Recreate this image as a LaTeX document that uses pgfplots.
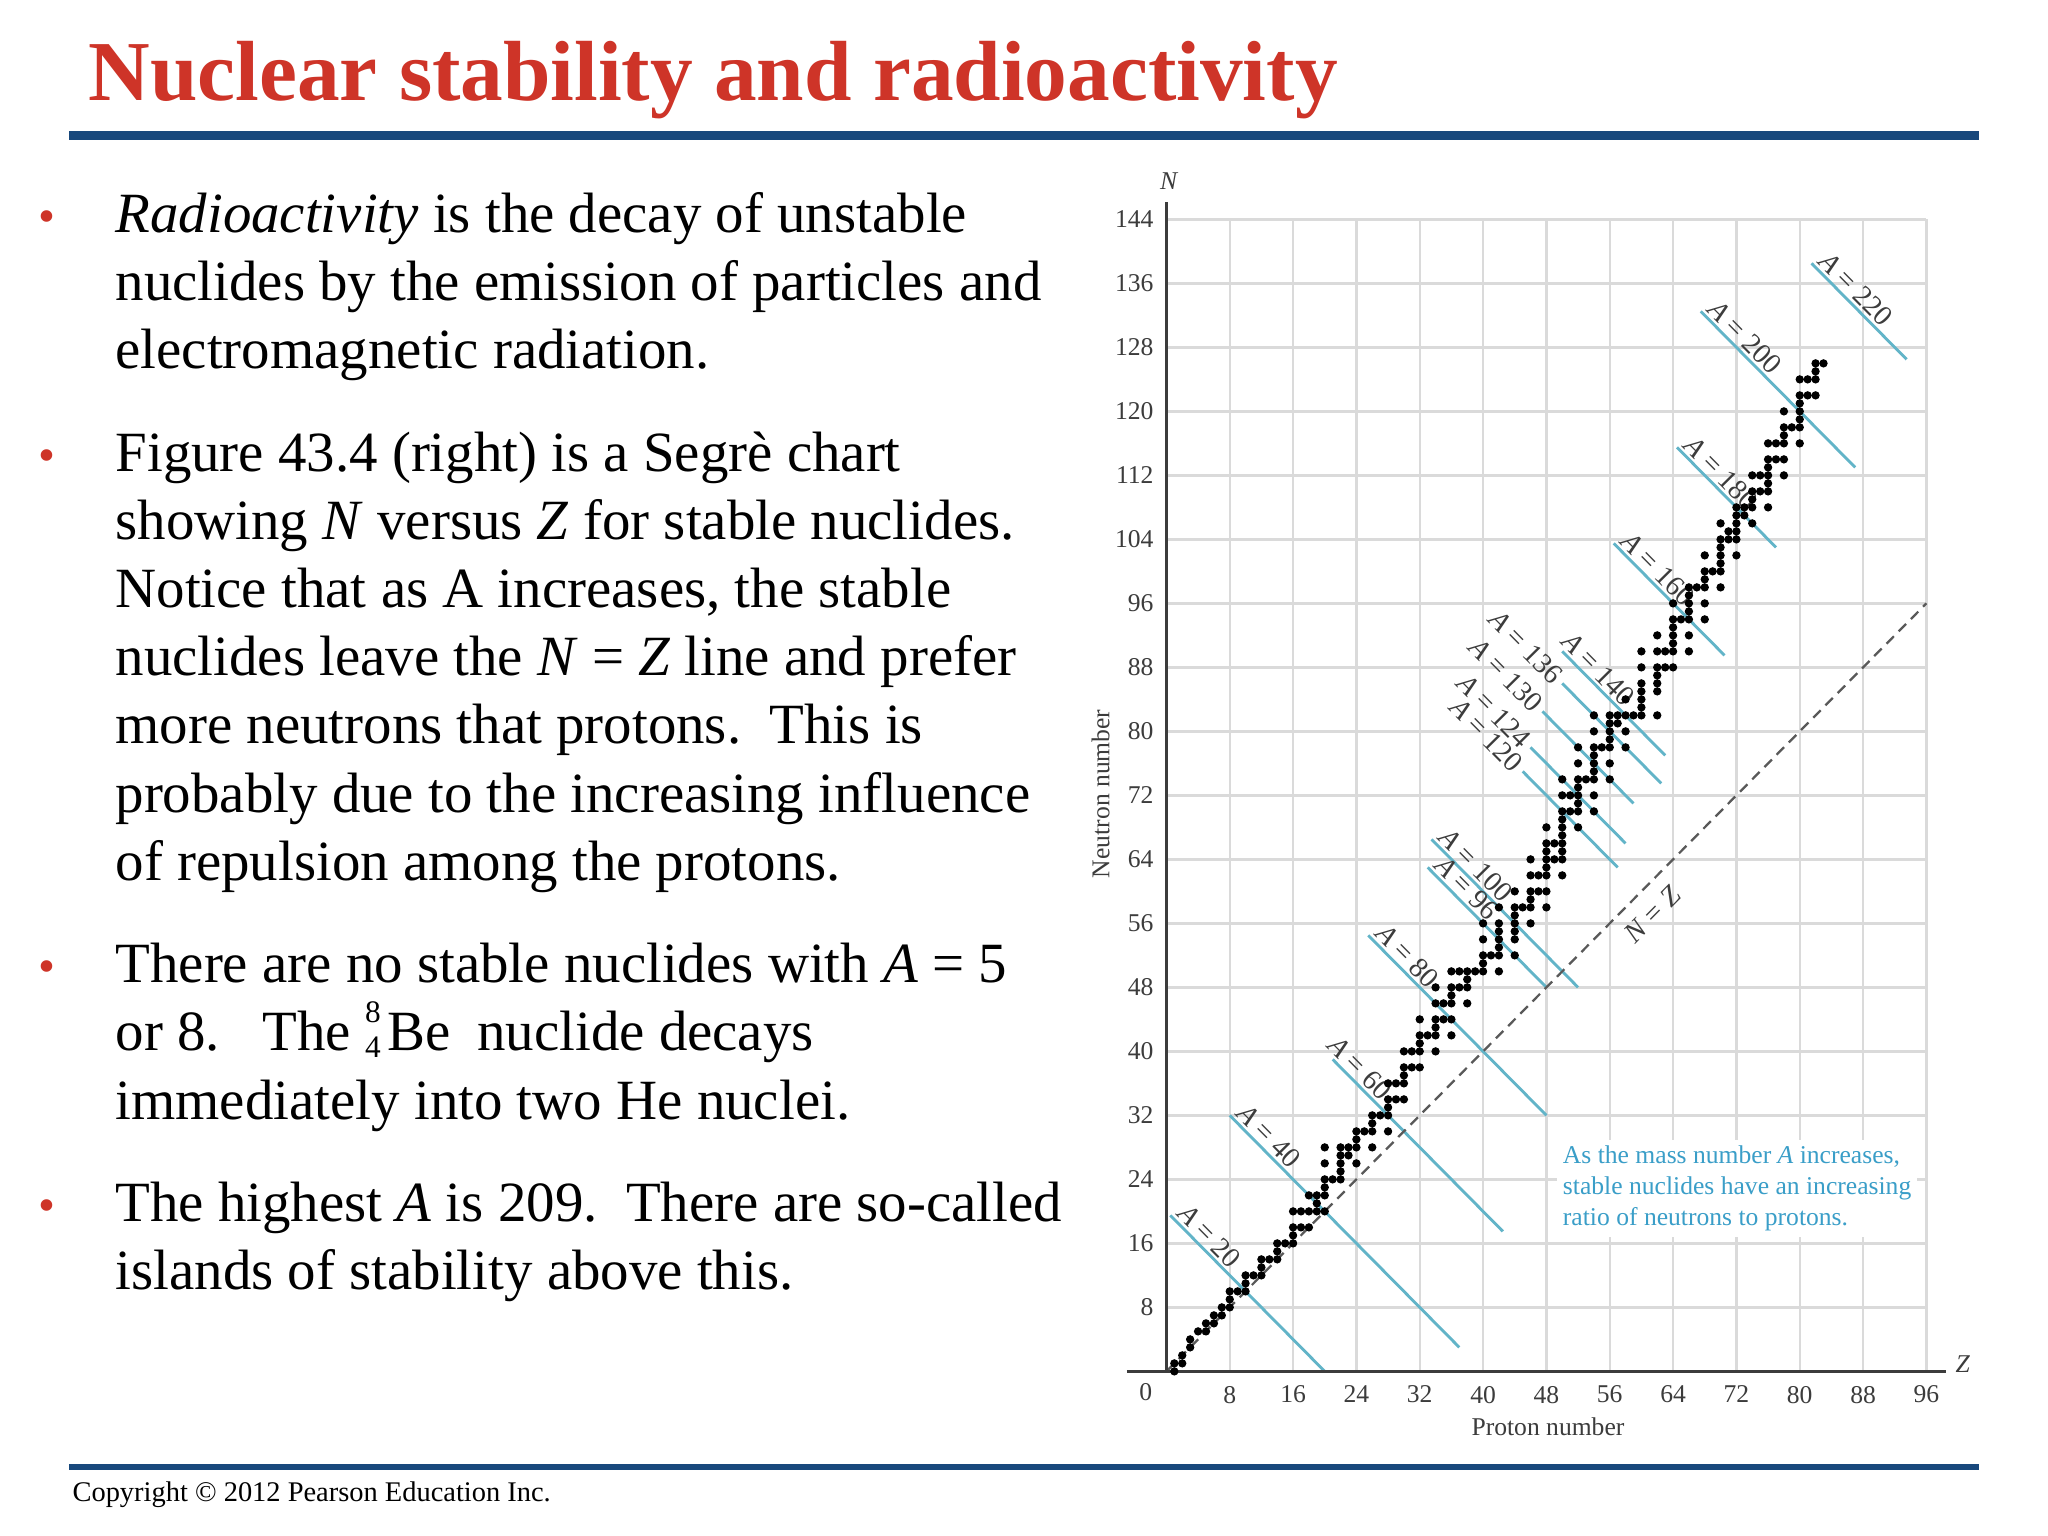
\documentclass[border=0pt]{standalone}
\usepackage{pgfplots}
\pgfplotsset{compat=1.18}
\usepackage{fontspec}
\setmainfont{Liberation Serif}
\definecolor{titlered}{RGB}{206,52,40}
\definecolor{rulblue}{RGB}{24,72,124}
\definecolor{aline}{RGB}{98,180,200}
\definecolor{notecol}{RGB}{58,158,200}
\definecolor{gridc}{RGB}{218,218,218}
\definecolor{axcol}{RGB}{60,60,60}
\definecolor{lblcol}{RGB}{60,60,60}
\newcommand{\bl}[2]{\node[anchor=base west, inner sep=0, font=\fontsize{20}{24}\selectfont] at (115,1536-#1) {#2};}
\newcommand{\bul}[1]{\node[anchor=base west, inner sep=0, text=titlered, font=\fontsize{17}{20}\selectfont] at (38,1536-#1) {\textbullet};}
\newcommand{\Be}{\makebox[0pt][l]{\raisebox{10pt}{\fontsize{11}{11}\selectfont 8}}\raisebox{-2.3pt}{\fontsize{11}{11}\selectfont 4}}
\begin{document}
\begin{tikzpicture}
\begin{scope}[x=0.3515625pt,y=0.3515625pt]
\fill[white] (0,0) rectangle (2048,1536);
% title and rules
\node[anchor=base west, inner sep=0, text=titlered, font=\fontsize{30}{36}\selectfont\bfseries] at (88,1536-101) {Nuclear stability and radioactivity};
\fill[rulblue] (69,1536-140.5) rectangle (1979,1536-131.5);
\fill[rulblue] (69,1536-1470) rectangle (1979,1536-1464);
\node[anchor=base west, inner sep=0, font=\fontsize{10}{12}\selectfont] at (72,1536-1502) {Copyright \textcopyright{} 2012 Pearson Education Inc.};
% bullets
\bul{232.5}
\bl{232.5}{\textit{Radioactivity} is the decay of unstable}
\bl{300.7}{nuclides by the emission of particles and}
\bl{368.9}{electromagnetic radiation.}
\bul{471.2}
\bl{471.2}{Figure 43.4 (right) is a Segrè chart}
\bl{539.4}{showing \textit{N} versus \textit{Z} for stable nuclides.}
\bl{607.6}{Notice that as A increases, the stable}
\bl{675.8}{nuclides leave the \textit{N} = \textit{Z} line and prefer}
\bl{744.0}{more neutrons that protons.\hspace{0.5em}This is}
\bl{812.2}{probably due to the increasing influence}
\bl{880.4}{of repulsion among the protons.}
\bul{982.7}
\bl{982.7}{There are no stable nuclides with \textit{A} = 5}
\bl{1050.9}{or 8.\hspace{0.75em}The \Be\hspace{2.5pt}Be\hspace{0.46em}nuclide decays}
\bl{1119.1}{immediately into two He nuclei.}
\bul{1221.4}
\bl{1221.4}{The highest \textit{A} is 209.\hspace{0.5em}There are so-called}
\bl{1289.6}{islands of stability above this.}
\end{scope}
% chart
\begin{axis}[
  at={(410.06pt,57.87pt)}, anchor=south west,
  scale only axis, width=267.2pt, height=405pt,
  xmin=0, xmax=96, ymin=0, ymax=144,
  clip=false,
  axis line style={draw=none},
  major tick length=0pt,
  tick style={draw=none},
  xtick={8,16,...,96}, ytick={8,16,...,144},
  grid=major,
  grid style={gridc, line width=0.8pt},
  /pgf/number format/assume math mode=true,
  ticklabel style={font=\fontsize{9}{9}\selectfont, text=axcol},
  xticklabel style={yshift=-1.6pt},
  yticklabel style={xshift=-1pt},
]
% mass-number lines
\addplot[aline, line width=1pt] coordinates {(0.5,19.5) (20,0)};
\addplot[aline, line width=1pt] coordinates {(8,32) (37,3)};
\addplot[aline, line width=1pt] coordinates {(21,39) (42.5,17.5)};
\addplot[aline, line width=1pt] coordinates {(25.5,54.5) (48,32)};
\addplot[aline, line width=1pt] coordinates {(33,63) (48,48)};
\addplot[aline, line width=1pt] coordinates {(33.5,66.5) (52,48)};
\addplot[aline, line width=1pt] coordinates {(45,75) (57,63)};
\addplot[aline, line width=1pt] coordinates {(46,78) (58,66)};
\addplot[aline, line width=1pt] coordinates {(47.5,82.5) (59,71)};
\addplot[aline, line width=1pt] coordinates {(50,86) (62.5,73.5)};
\addplot[aline, line width=1pt] coordinates {(50,90) (63,77)};
\addplot[aline, line width=1pt] coordinates {(56.5,103.5) (70.5,89.5)};
\addplot[aline, line width=1pt] coordinates {(64.5,115.5) (77,103)};
\addplot[aline, line width=1pt] coordinates {(67.5,132.5) (87,113)};
\addplot[aline, line width=1pt] coordinates {(81.5,138.5) (93.5,126.5)};
% N = Z line
\addplot[gray!70!black, line width=0.8pt, dash pattern=on 3.7pt off 2.4pt] coordinates {(0,0) (96,96)};
% stable nuclides
\addplot[only marks, mark=*, mark size=1.25pt, black] coordinates {
(1,0) (1,1) (2,1) (2,2) (3,3) (3,4) (4,5) (5,5) (5,6) (6,6) (6,7) (7,7) (7,8)
(8,8) (8,9) (8,10) (9,10) (10,10) (10,11) (10,12) (11,12) (12,12) (12,13) (12,14)
(13,14) (14,14) (14,15) (14,16) (15,16) (16,16) (16,17) (16,18) (16,20) (17,18) (17,20)
(18,18) (18,20) (18,22) (19,20) (19,21) (19,22) (20,20) (20,22) (20,23) (20,24) (20,26) (20,28)
(21,24) (22,24) (22,25) (22,26) (22,27) (22,28) (23,27) (23,28) (24,26) (24,28) (24,29) (24,30)
(25,30) (26,28) (26,30) (26,31) (26,32) (27,32) (28,30) (28,32) (28,33) (28,34) (28,36)
(29,34) (29,36) (30,34) (30,36) (30,37) (30,38) (30,40) (31,38) (31,40)
(32,38) (32,40) (32,41) (32,42) (32,44) (33,42) (34,40) (34,42) (34,43) (34,44) (34,46) (34,48)
(35,44) (35,46) (36,42) (36,44) (36,46) (36,47) (36,48) (36,50) (37,48) (37,50)
(38,46) (38,48) (38,49) (38,50) (39,50) (40,50) (40,51) (40,52) (40,54) (40,56) (41,52)
(42,50) (42,52) (42,53) (42,54) (42,55) (42,56) (42,58)
(44,52) (44,54) (44,55) (44,56) (44,57) (44,58) (44,60) (45,58)
(46,56) (46,58) (46,59) (46,60) (46,62) (46,64) (47,60) (47,62)
(48,58) (48,60) (48,62) (48,63) (48,64) (48,65) (48,66) (48,68) (49,64) (49,66)
(50,62) (50,64) (50,65) (50,66) (50,67) (50,68) (50,69) (50,70) (50,72) (50,74) (51,70) (51,72)
(52,68) (52,70) (52,71) (52,72) (52,73) (52,74) (52,76) (52,78) (53,74)
(54,70) (54,72) (54,74) (54,75) (54,76) (54,77) (54,78) (54,80) (54,82) (55,78)
(56,74) (56,76) (56,78) (56,79) (56,80) (56,81) (56,82) (57,81) (57,82)
(58,78) (58,80) (58,82) (58,84) (59,82)
(60,82) (60,83) (60,84) (60,85) (60,86) (60,88) (60,90)
(62,82) (62,85) (62,86) (62,87) (62,88) (62,90) (62,92) (63,88) (63,90)
(64,88) (64,90) (64,91) (64,92) (64,93) (64,94) (64,96) (65,94)
(66,90) (66,92) (66,94) (66,95) (66,96) (66,97) (66,98) (67,98)
(68,94) (68,96) (68,98) (68,99) (68,100) (68,102) (69,100)
(70,98) (70,100) (70,101) (70,102) (70,103) (70,104) (70,106) (71,104) (71,105)
(72,102) (72,104) (72,105) (72,106) (72,107) (72,108) (73,107) (73,108)
(74,106) (74,108) (74,109) (74,110) (74,112) (75,110) (75,112)
(76,108) (76,110) (76,111) (76,112) (76,113) (76,114) (76,116) (77,114) (77,116)
(78,112) (78,114) (78,116) (78,117) (78,118) (78,120) (79,118)
(80,116) (80,118) (80,119) (80,120) (80,121) (80,122) (80,124) (81,122) (81,124)
(82,122) (82,124) (82,125) (82,126) (83,126)
};
% axis lines
\draw[axcol, line width=0.9pt] (axis cs:-5,0) -- (axis cs:98.5,0);
\draw[axcol, line width=0.9pt] (axis cs:0,0) -- (axis cs:0,146.2);
% axis texts
\node[font=\fontsize{9}{9}\selectfont\itshape, text=axcol] at (axis cs:0.3,148.8) {N};
\node[font=\fontsize{9}{9}\selectfont\itshape, text=axcol] at (axis cs:100.6,0.9) {Z};
\node[font=\fontsize{9}{9}\selectfont, text=axcol] at (axis cs:-2.6,-2.6) {0};
\node[rotate=90, font=\fontsize{9}{9}\selectfont, text=axcol] at (axis cs:-8.3,72.2) {Neutron number};
\node[font=\fontsize{9}{9}\selectfont, text=axcol] at (axis cs:48.2,-6.9) {Proton number};
% A labels
\tikzset{alab/.style={rotate=-45.3, font=\fontsize{10}{10}\selectfont, text=lblcol, inner sep=1.2pt}}
\node[alab, anchor=south west] at (axis cs:0.5,19.5) {\textit{A} = 20};
\node[alab, anchor=south west] at (axis cs:8,32) {\textit{A} = 40};
\node[alab, anchor=south west] at (axis cs:19.5,40.5) {\textit{A} = 60};
\node[alab, anchor=south west] at (axis cs:25.5,54.5) {\textit{A} = 80};
\node[alab, anchor=south west] at (axis cs:33,63) {\textit{A} = 96};
\node[alab, anchor=south west] at (axis cs:33.5,66.5) {\textit{A} = 100};
\node[alab, anchor=east, inner sep=2pt] at (axis cs:45,75) {\textit{A} = 120};
\node[alab, anchor=east, inner sep=2pt] at (axis cs:46,78) {\textit{A} = 124};
\node[alab, anchor=east, inner sep=2pt] at (axis cs:47.5,82.5) {\textit{A} = 130};
\node[alab, anchor=east, inner sep=2pt] at (axis cs:50,86) {\textit{A} = 136};
\node[alab, anchor=south west] at (axis cs:49,91) {\textit{A} = 140};
\node[alab, anchor=south west] at (axis cs:56.5,103.5) {\textit{A} = 160};
\node[alab, anchor=south west] at (axis cs:64.5,115.5) {\textit{A} = 180};
\node[alab, anchor=south west] at (axis cs:67.5,132.5) {\textit{A} = 200};
\node[alab, anchor=south west] at (axis cs:81.5,138.5) {\textit{A} = 220};
\node[rotate=45.3, font=\fontsize{10}{10}\selectfont, text=lblcol] at (axis cs:61.4,57.1) {\textit{N} = \textit{Z}};
% note
\node[anchor=north west, fill=white, inner sep=2pt, align=left, text=notecol, font=\fontsize{9}{11}\selectfont] at (axis cs:49.3,29) {As the mass number \textit{A} increases,\\stable nuclides have an increasing\\ratio of neutrons to protons.};
\end{axis}
\end{tikzpicture}
\end{document}
